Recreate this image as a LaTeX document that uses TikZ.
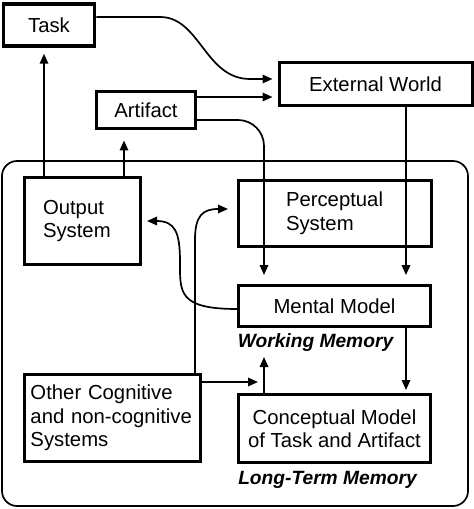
\documentclass[tikz,border=0pt]{standalone}
\usepackage{fontspec}
\setmainfont{Liberation Sans}
\usetikzlibrary{arrows.meta}
\begin{document}
\begin{tikzpicture}[x=1bp,y=-1bp,
  box/.style={draw, line width=3bp, inner sep=0pt, font=\fontsize{20.3bp}{23.5bp}\selectfont},
  conn/.style={line width=1.7bp},
  arr/.style={conn,-{Triangle[length=10bp,width=8.5bp]}},
  mem/.style={inner sep=0pt, font=\fontsize{19.2bp}{22bp}\selectfont\bfseries\itshape}]
\useasboundingbox (0,0) rectangle (474,509);
% enclosing region
\draw[line width=1.7bp, rounded corners=15bp] (2,161) rectangle (468,506);
% boxes
\node[box, minimum width=91bp, minimum height=42bp, line width=3.5bp] (task) at (49,25) {Task};
\node[box, minimum width=193bp, minimum height=43bp] (world) at (375.5,84.5) {External World};
\node[box, minimum width=99bp, minimum height=37bp] (art) at (146,110.5) {Artifact};
\node[box, minimum width=116bp, minimum height=87bp, text width=79bp, align=left] (out) at (82.5,221) {Output\\System};
\node[box, minimum width=193bp, minimum height=66bp, text width=98bp, align=left] (perc) at (335,213.5) {Perceptual\\System};
\node[box, minimum width=192bp, minimum height=41bp] (mental) at (334.5,306) {Mental Model};
\node[box, minimum width=176bp, minimum height=87bp, text width=164bp, align=left] (other) at (112.5,418) {Other Cognitive\\and non-cognitive\\Systems};
\node[box, minimum width=192bp, minimum height=68bp, align=center] (concept) at (334.5,428.5) {Conceptual Model\\of Task and Artifact};
% labels
\node[mem] (wm) at (315.5,343) {Working Memory};
\node[mem] (ltm) at (327.5,480) {Long-Term Memory};
% free ends
\coordinate (o2) at (258,382);
\coordinate (c2) at (264,357);
% connectors
\draw[arr, shorten >=6bp] (out.north -| 44,0) -- (task.south -| 44,0);
\draw[arr, shorten >=10bp] (out.north -| 124,0) -- (art.south -| 124,0);
\draw[arr, shorten >=5bp] (task.east |- 0,17) -- (160,17) .. controls (200,17) and (205,79) .. (250,79) -- (world.west |- 0,79);
\draw[arr, shorten >=5bp] (art.east |- 0,97) -- (world.west |- 0,97);
\draw[arr, shorten >=9bp, rounded corners=26bp] (art.east |- 0,120) -| (mental.north -| 264,0);
\draw[arr, shorten >=9bp] (world.south -| 406,0) -- (mental.north -| 406,0);
\draw[arr, shorten >=3bp] (mental.south -| 406,0) -- (concept.north -| 406,0);
\draw[arr, shorten >=5bp] (mental.west |- 0,309) .. controls (178,309) and (180,292) .. (180,262) .. controls (180,232) and (175,221) .. (out.east |- 0,221);
\draw[arr, shorten >=9bp] (other.north -| 195,0) -- (195,240) .. controls (195,215) and (203,209) .. (perc.west |- 0,209);
\draw[arr] (other.east |- 0,382) -- (o2);
\draw[arr] (concept.north -| 264,0) -- (c2);
\end{tikzpicture}
\end{document}
